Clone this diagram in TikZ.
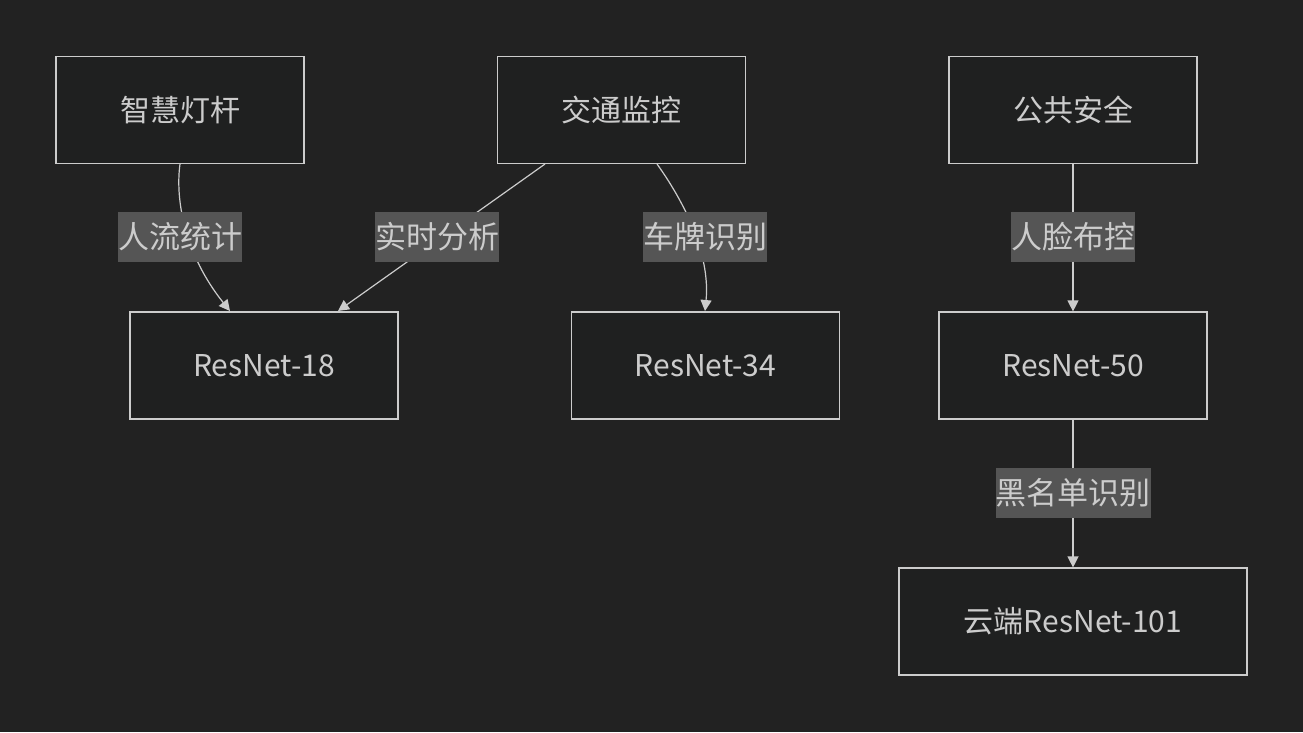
\documentclass[tikz,border=0pt]{standalone}
\usepackage{fontspec}
\setmainfont{Noto Sans CJK SC}
\usetikzlibrary{arrows.meta}
\definecolor{bg}{HTML}{222222}
\definecolor{boxfill}{HTML}{1F2020}
\definecolor{fg}{HTML}{CCCCCC}
\definecolor{lbl}{HTML}{555555}
\tikzset{
  box/.style={draw=fg, fill=boxfill, line width=1.2pt, text=fg, minimum height=107pt, font=\fontsize{30}{34}\selectfont, inner sep=0pt},
  elabel/.style={fill=lbl, text=fg, font=\fontsize{31}{34}\selectfont, inner xsep=0pt, inner ysep=0pt, minimum height=50pt},
  conn/.style={draw=fg, line width=1.2pt, -{Triangle[length=11pt,width=11pt]}}
}
\begin{document}
\begin{tikzpicture}[x=1pt,y=-1pt]
\fill[bg] (0,0) rectangle (1303,732);
\useasboundingbox (0,0) rectangle (1303,732);
\node[box, minimum width=248pt] (a) at (180,110) {智慧灯杆};
\node[box, minimum width=248pt] (b) at (621.5,110) {交通监控};
\node[box, minimum width=248pt] (c) at (1073,110) {公共安全};
\node[box, minimum width=268pt] (r18) at (264,365.5) {ResNet-18};
\node[box, minimum width=268pt] (r34) at (705.5,365.5) {ResNet-34};
\node[box, minimum width=268pt] (r50) at (1073,365.5) {ResNet-50};
\node[box, minimum width=348pt] (r101) at (1073,621.5) {云端ResNet-101};
\coordinate (r18a) at (230,311);
\coordinate (r18b) at (338,311);
\coordinate (bl) at (545,164);
\coordinate (br) at (657,164);
\coordinate (r34t) at (705,311);
\draw[conn] (a.south) .. controls (175,200) and (185,255) .. (r18a);
\draw[conn] (bl) -- (r18b);
\draw[conn] (br) .. controls (690,210) and (710,260) .. (r34t);
\draw[conn] (c.south) -- (r50.north);
\draw[conn] (r50.south) -- (r101.north);
\node[elabel] (l1) at (180,237) {人流统计};
\node[elabel] (l2) at (437,237) {实时分析};
\node[elabel] (l3) at (705,237) {车牌识别};
\node[elabel] (l4) at (1073,237) {人脸布控};
\node[elabel] (l5) at (1073,493) {黑名单识别};
\end{tikzpicture}
\end{document}
